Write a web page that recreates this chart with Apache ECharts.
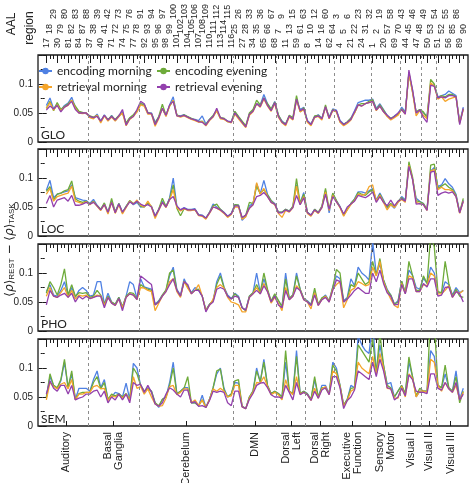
<!DOCTYPE html>
<html>
<head>
<meta charset="utf-8">
<script src="https://cdn.jsdelivr.net/npm/echarts@6/dist/echarts.min.js"></script>
<style>html,body{margin:0;padding:0;background:#fff}#chart{width:474px;height:483px}</style>
</head>
<body>
<div id="chart"></div>
<script>
// AAL region number at each x position (1..116)
const aalRegions = [17,18,29,30,79,80,81,82,83,84,87,88,
  37,38,39,40,41,42,71,72,73,74,75,76,77,78,
  91,92,93,94,95,96,97,98,99,100,101,102,103,104,105,106,107,108,109,110,111,112,113,114,115,116,
  25,26,27,28,33,34,35,36,65,66,67,68,
  7,9,11,13,15,59,61,63,
  8,10,12,14,16,60,62,64,
  3,4,5,6,21,22,23,24,31,32,
  1,2,19,20,57,58,69,70,
  43,44,45,46,47,48,
  49,50,53,54,
  51,52,55,56,85,86,89,90];
const networks = ['Auditory','Basal\nGanglia','Cerebelum','DMN','Dorsal\nLeft','Dorsal\nRight',
  'Executive\nFunction','Sensory\nMotor','Visual I','Visual II','Visual III'];
const networkSizes = [12,14,26,12,8,8,10,8,6,4,8];
const panels = ['GLO','LOC','PHO','SEM'];
const seriesNames = ['encoding morning','encoding evening','retrieval morning','retrieval evening'];
const colors = ['#4f81e3','#6eab3a','#f5a52a','#9340ad'];

// GLO
const gloEncMorning = [.063,.076,.057,.066,.055,.063,.067,.077,.060,.052,.050,.049,
  .043,.041,.048,.036,.047,.037,.046,.037,.044,.052,.032,.041,.046,.052,
  .066,.063,.049,.050,.034,.043,.058,.045,.064,.078,.046,.045,.047,.043,.040,.039,.037,.045,.031,.039,.045,.054,.041,.040,.036,.035,
  .052,.043,.035,.027,.047,.055,.066,.064,.082,.066,.056,.070,
  .046,.036,.031,.044,.041,.072,.056,.060,
  .037,.031,.044,.047,.041,.060,.043,.057,
  .055,.037,.031,.034,.041,.054,.068,.070,.072,.072,
  .074,.058,.066,.056,.046,.040,.045,.049,
  .060,.052,.118,.090,.050,.056,
  .050,.045,.100,.098,
  .078,.080,.082,.088,.084,.080,.034,.060];
const gloEncEvening = [.058,.070,.054,.068,.056,.061,.066,.072,.062,.053,.051,.050,
  .045,.043,.046,.035,.046,.039,.045,.039,.046,.050,.033,.042,.047,.054,
  .066,.065,.051,.049,.032,.044,.065,.046,.062,.072,.047,.044,.047,.044,.041,.038,.035,.036,.030,.039,.046,.055,.042,.041,.035,.034,
  .053,.044,.036,.028,.050,.056,.072,.064,.076,.066,.057,.069,
  .047,.035,.031,.046,.042,.080,.052,.059,
  .035,.030,.045,.046,.040,.064,.041,.056,
  .053,.035,.030,.035,.041,.050,.064,.066,.066,.070,
  .073,.056,.064,.055,.045,.041,.044,.048,
  .057,.050,.120,.086,.052,.056,
  .052,.042,.108,.100,
  .075,.080,.078,.082,.082,.078,.033,.057];
const gloRetMorning = [.058,.068,.055,.064,.054,.060,.063,.072,.058,.050,.049,.050,
  .042,.040,.046,.033,.045,.036,.043,.036,.044,.050,.028,.039,.044,.052,
  .064,.062,.048,.048,.027,.040,.058,.044,.062,.072,.045,.043,.045,.042,.039,.037,.034,.035,.028,.037,.043,.054,.040,.039,.035,.033,
  .048,.040,.032,.025,.046,.052,.066,.060,.074,.062,.053,.066,
  .043,.033,.028,.043,.038,.072,.052,.056,
  .034,.028,.042,.044,.038,.060,.040,.054,
  .052,.034,.028,.032,.038,.050,.064,.062,.066,.068,
  .070,.054,.062,.052,.044,.038,.042,.046,
  .056,.048,.118,.086,.045,.054,
  .046,.040,.102,.096,
  .074,.078,.070,.074,.076,.078,.032,.056];
const gloRetEvening = [.055,.062,.057,.063,.052,.060,.064,.070,.056,.050,.050,.050,
  .044,.042,.044,.036,.046,.038,.044,.038,.045,.056,.029,.040,.044,.056,
  .070,.066,.050,.049,.030,.042,.058,.046,.064,.070,.045,.044,.046,.043,.040,.038,.035,.034,.029,.038,.044,.058,.042,.040,.036,.034,
  .050,.042,.034,.026,.048,.053,.066,.061,.076,.063,.054,.068,
  .044,.034,.030,.045,.039,.074,.054,.057,
  .036,.030,.043,.045,.040,.061,.041,.055,
  .054,.036,.030,.034,.039,.052,.064,.062,.066,.068,
  .070,.055,.062,.052,.046,.040,.044,.050,
  .056,.048,.124,.090,.050,.055,
  .042,.034,.098,.096,
  .076,.078,.076,.080,.080,.078,.030,.058];

// LOC
const locEncMorning = [.079,.096,.066,.072,.074,.076,.078,.088,.066,.064,.062,.061,
  .056,.063,.053,.046,.056,.041,.060,.042,.056,.041,.051,.060,.054,.058,
  .050,.051,.056,.051,.035,.046,.060,.050,.066,.100,.051,.045,.049,.046,.046,.047,.037,.036,.031,.041,.055,.050,.046,.041,.034,.039,
  .054,.053,.027,.034,.052,.056,.090,.073,.096,.072,.061,.056,
  .041,.041,.046,.043,.051,.088,.057,.075,
  .041,.036,.046,.040,.051,.078,.040,.073,
  .061,.051,.036,.046,.056,.064,.076,.076,.074,.078,
  .082,.062,.074,.062,.048,.054,.048,.058,
  .068,.062,.124,.098,.065,.060,
  .056,.046,.112,.118,
  .085,.088,.099,.090,.084,.072,.040,.062];
const locEncEvening = [.077,.085,.062,.072,.074,.078,.080,.095,.064,.060,.058,.060,
  .055,.060,.052,.046,.057,.040,.065,.041,.056,.040,.051,.061,.056,.060,
  .051,.050,.057,.051,.033,.046,.065,.051,.064,.088,.048,.035,.047,.045,.045,.046,.036,.035,.030,.041,.052,.055,.046,.040,.033,.038,
  .054,.053,.031,.036,.058,.056,.086,.073,.080,.071,.061,.055,
  .041,.041,.046,.043,.051,.099,.056,.072,
  .041,.035,.046,.041,.051,.082,.046,.074,
  .061,.050,.036,.046,.056,.063,.075,.072,.070,.076,
  .080,.060,.072,.060,.050,.056,.050,.060,
  .066,.060,.128,.102,.061,.059,
  .056,.045,.122,.124,
  .082,.086,.090,.084,.080,.070,.041,.065];
const locRetMorning = [.072,.082,.060,.068,.070,.072,.074,.086,.060,.058,.056,.059,
  .054,.059,.051,.044,.054,.038,.058,.039,.054,.038,.049,.060,.055,.062,
  .053,.050,.060,.050,.030,.044,.058,.049,.062,.080,.049,.043,.047,.044,.044,.045,.035,.034,.029,.039,.050,.048,.044,.039,.032,.037,
  .050,.050,.029,.033,.048,.054,.092,.072,.082,.068,.058,.054,
  .039,.032,.044,.041,.049,.086,.054,.068,
  .039,.034,.044,.039,.049,.076,.044,.070,
  .059,.049,.034,.045,.054,.061,.072,.070,.072,.085,
  .088,.060,.070,.058,.045,.054,.049,.058,
  .063,.058,.122,.098,.058,.056,
  .054,.044,.112,.115,
  .080,.084,.080,.080,.078,.068,.039,.060];
const locRetEvening = [.056,.070,.050,.062,.064,.066,.060,.070,.053,.053,.055,.058,
  .055,.058,.052,.045,.054,.041,.058,.040,.055,.041,.050,.059,.055,.060,
  .055,.052,.054,.050,.034,.045,.058,.050,.063,.068,.052,.045,.048,.045,.045,.046,.036,.035,.031,.040,.050,.048,.045,.040,.034,.038,
  .052,.052,.032,.036,.048,.054,.068,.070,.075,.068,.058,.055,
  .040,.040,.045,.042,.049,.070,.054,.066,
  .040,.036,.045,.040,.049,.072,.046,.068,
  .059,.050,.038,.050,.055,.060,.070,.068,.066,.070,
  .076,.058,.068,.058,.052,.062,.052,.060,
  .064,.060,.120,.098,.055,.056,
  .054,.044,.110,.112,
  .070,.074,.076,.074,.076,.068,.040,.060];

// PHO
const phoEncMorning = [.068,.080,.062,.060,.070,.085,.060,.075,.058,.070,.075,.070,
  .060,.062,.085,.085,.046,.065,.050,.046,.058,.042,.060,.085,.080,.056,
  .090,.076,.074,.072,.046,.052,.062,.070,.095,.110,.072,.062,.090,.076,.066,.075,.070,.060,.036,.046,.052,.085,.100,.076,.062,.056,
  .065,.060,.040,.036,.060,.066,.100,.066,.090,.070,.050,.062,
  .052,.042,.100,.056,.062,.100,.072,.056,
  .052,.046,.068,.046,.056,.062,.052,.076,
  .095,.090,.052,.058,.090,.078,.110,.100,.095,.088,
  .155,.098,.115,.088,.072,.062,.046,.052,
  .086,.066,.105,.096,.075,.072,
  .091,.082,.110,.100,
  .066,.066,.085,.080,.062,.075,.066,.070];
const phoEncEvening = [.065,.085,.075,.062,.080,.107,.062,.080,.060,.066,.065,.066,
  .058,.060,.070,.062,.046,.060,.050,.046,.058,.041,.060,.066,.065,.056,
  .080,.075,.072,.070,.045,.051,.062,.071,.100,.105,.070,.060,.086,.076,.066,.070,.072,.060,.036,.046,.052,.080,.095,.075,.060,.055,
  .064,.058,.040,.035,.060,.066,.080,.066,.100,.072,.052,.064,
  .053,.042,.090,.056,.062,.095,.072,.056,
  .051,.045,.074,.046,.057,.060,.052,.075,
  .106,.100,.050,.056,.080,.076,.100,.090,.080,.085,
  .120,.096,.125,.088,.070,.062,.046,.050,
  .086,.066,.120,.096,.070,.070,
  .095,.082,.165,.145,
  .068,.066,.120,.082,.060,.072,.060,.058];
const phoRetMorning = [.060,.075,.060,.058,.066,.075,.058,.070,.055,.062,.060,.062,
  .056,.058,.062,.060,.044,.058,.048,.044,.055,.040,.058,.064,.062,.054,
  .075,.074,.070,.068,.035,.048,.060,.068,.085,.090,.068,.058,.085,.074,.064,.070,.080,.060,.035,.044,.055,.075,.080,.074,.058,.050,
  .048,.045,.033,.033,.058,.064,.075,.064,.082,.068,.048,.058,
  .048,.035,.075,.054,.060,.078,.070,.054,
  .050,.038,.066,.044,.054,.060,.050,.072,
  .080,.085,.040,.054,.070,.074,.085,.082,.078,.080,
  .110,.095,.120,.085,.068,.055,.044,.040,
  .082,.064,.095,.092,.068,.068,
  .080,.078,.100,.095,
  .064,.064,.070,.078,.058,.068,.065,.070];
const phoRetEvening = [.045,.070,.060,.058,.062,.065,.058,.065,.050,.060,.055,.060,
  .056,.058,.060,.060,.040,.058,.048,.044,.056,.035,.058,.064,.062,.054,
  .095,.090,.085,.080,.045,.050,.060,.068,.080,.090,.070,.060,.085,.080,.064,.070,.070,.060,.033,.045,.050,.072,.075,.072,.060,.055,
  .060,.058,.040,.036,.058,.064,.070,.064,.078,.068,.050,.060,
  .045,.040,.070,.054,.060,.075,.070,.054,
  .050,.044,.062,.044,.054,.058,.050,.070,
  .088,.085,.050,.055,.062,.070,.075,.070,.065,.065,
  .100,.085,.105,.082,.066,.060,.045,.046,
  .080,.064,.090,.090,.068,.068,
  .082,.076,.090,.090,
  .060,.062,.075,.076,.058,.068,.064,.050];

// SEM
const semEncMorning = [.050,.085,.070,.065,.078,.110,.066,.090,.046,.065,.065,.065,
  .060,.080,.095,.066,.080,.046,.050,.058,.056,.050,.074,.046,.108,.100,
  .070,.060,.066,.060,.040,.032,.046,.050,.075,.110,.056,.060,.066,.066,.040,.040,.035,.053,.032,.046,.066,.090,.100,.065,.050,.055,
  .075,.074,.034,.030,.050,.060,.100,.076,.115,.070,.056,.060,
  .056,.050,.110,.060,.056,.130,.056,.060,
  .056,.046,.080,.050,.070,.070,.056,.110,
  .100,.070,.036,.046,.070,.066,.155,.140,.130,.125,
  .180,.092,.140,.105,.072,.075,.050,.060,
  .070,.056,.110,.085,.050,.060,
  .060,.060,.130,.120,
  .070,.066,.090,.066,.060,.095,.046,.065];
const semEncEvening = [.048,.090,.070,.066,.080,.115,.066,.095,.046,.056,.058,.058,
  .058,.075,.085,.064,.075,.046,.055,.052,.055,.050,.056,.046,.100,.090,
  .070,.060,.064,.060,.040,.035,.046,.050,.070,.100,.055,.060,.065,.085,.040,.040,.035,.045,.032,.046,.066,.095,.098,.062,.050,.055,
  .078,.080,.034,.030,.050,.060,.095,.076,.110,.070,.056,.060,
  .056,.050,.130,.060,.056,.120,.056,.060,
  .055,.046,.085,.050,.066,.065,.056,.105,
  .095,.070,.036,.046,.065,.066,.140,.130,.120,.110,
  .150,.090,.160,.105,.070,.066,.050,.060,
  .070,.056,.119,.085,.052,.065,
  .060,.060,.200,.180,
  .070,.066,.105,.066,.060,.085,.040,.060];
const semRetMorning = [.045,.075,.068,.064,.072,.075,.064,.080,.045,.055,.055,.058,
  .058,.068,.070,.064,.065,.044,.052,.050,.054,.048,.055,.044,.085,.065,
  .068,.055,.064,.050,.038,.034,.035,.048,.068,.070,.054,.058,.064,.064,.040,.045,.035,.045,.032,.045,.064,.060,.065,.060,.050,.052,
  .070,.070,.033,.030,.048,.058,.075,.074,.085,.068,.054,.058,
  .054,.045,.080,.060,.054,.085,.055,.058,
  .054,.044,.065,.048,.064,.068,.054,.095,
  .090,.068,.034,.044,.060,.064,.110,.100,.095,.090,
  .120,.088,.125,.100,.065,.064,.048,.048,
  .068,.050,.090,.082,.050,.060,
  .060,.058,.115,.110,
  .070,.060,.075,.064,.058,.070,.045,.058];
const semRetEvening = [.055,.078,.065,.060,.070,.070,.055,.070,.045,.048,.050,.055,
  .055,.060,.062,.050,.060,.040,.050,.045,.055,.045,.055,.040,.075,.070,
  .072,.058,.070,.058,.038,.034,.040,.055,.066,.062,.055,.050,.062,.062,.040,.042,.034,.035,.032,.044,.060,.058,.060,.058,.040,.035,
  .060,.060,.033,.030,.046,.056,.070,.074,.075,.066,.054,.050,
  .050,.048,.070,.058,.045,.075,.054,.058,
  .054,.044,.060,.048,.062,.066,.054,.085,
  .085,.066,.030,.044,.050,.062,.095,.090,.085,.080,
  .110,.085,.115,.095,.066,.064,.045,.050,
  .065,.052,.088,.080,.060,.058,
  .058,.056,.090,.090,
  .065,.062,.075,.064,.058,.075,.045,.055];

const panelData = [
  [gloEncMorning, gloEncEvening, gloRetMorning, gloRetEvening],
  [locEncMorning, locEncEvening, locRetMorning, locRetEvening],
  [phoEncMorning, phoEncEvening, phoRetMorning, phoRetEvening],
  [semEncMorning, semEncEvening, semRetMorning, semRetEvening]
];

// network boundaries (dashed lines) and centres (bottom labels)
const boundaries = [];
const centers = [];
let start = 1;
networkSizes.forEach((n, k) => {
  centers.push(start + (n - 1) / 2);
  if (k < networkSizes.length - 1) boundaries.push(start + n - 0.5);
  start += n;
});
const allIdx = aalRegions.map((_, i) => i + 1);
const nearRow = allIdx.filter(i => i % 3 === 1);

const chart = echarts.init(document.getElementById('chart'));
const tops = [55, 149, 244, 339];
const xMin = -1.3, xMax = 117.3;
const ink = '#1a1a1a';

const grids = tops.map(top => ({
  left: 38, right: 6, top: top, height: 87, show: true,
  borderColor: ink, borderWidth: 1.3, backgroundColor: 'transparent',
  containLabel: false, outerBoundsMode: 'none'
}));

const xAxes = [];
const mainX = [];
const yAxes = [];
const baseX = g => ({
  type: 'value', gridIndex: g, min: xMin, max: xMax,
  axisLine: { show: false, onZero: false }, splitLine: { show: false }
});
panels.forEach((p, g) => {
  mainX.push(xAxes.length);
  xAxes.push(Object.assign(baseX(g), {
    position: 'bottom',
    axisTick: g === 3
      ? { show: true, inside: true, length: 5, customValues: centers, lineStyle: { color: ink } }
      : { show: false },
    axisLabel: g === 3
      ? { show: true, customValues: centers, rotate: 90, margin: 6, fontSize: 11, lineHeight: 11,
          color: '#222', fontFamily: 'Liberation Sans',
          formatter: v => networks[centers.indexOf(v)] }
      : { show: false }
  }));
  xAxes.push(Object.assign(baseX(g), {
    position: 'top',
    axisTick: { show: true, inside: true, length: 4, customValues: allIdx, lineStyle: { color: ink } },
    axisLabel: { show: false }
  }));
  xAxes.push(Object.assign(baseX(g), {
    position: 'top',
    axisTick: { show: true, inside: true, length: 8, customValues: nearRow, lineStyle: { color: ink } },
    axisLabel: { show: false }
  }));
  [['left', true], ['right', false]].forEach(([pos, lab]) => {
    yAxes.push({
      type: 'value', gridIndex: g, position: pos, min: 0, max: 0.15, interval: 0.05,
      axisLine: { show: false }, splitLine: { show: false },
      axisTick: { show: true, inside: true, length: 4, lineStyle: { color: ink } },
      minorTick: { show: true, splitNumber: 2, length: 2, lineStyle: { color: ink } },
      axisLabel: lab
        ? { show: true, fontSize: 10, color: '#222', fontFamily: 'Liberation Sans', margin: 5,
            formatter: v => (v > 0.14 ? '' : String(+v.toFixed(2))) }
        : { show: false }
    });
  });
});

const series = [];
panelData.forEach((sets, g) => {
  sets.forEach((vals, s) => {
    const item = {
      type: 'line', name: seriesNames[s], xAxisIndex: mainX[g], yAxisIndex: 2 * g,
      data: vals.map((v, i) => [i + 1, v]), symbol: 'none', clip: true,
      lineStyle: { width: 1.3, color: colors[s] }, itemStyle: { color: colors[s] },
      emphasis: { disabled: true }
    };
    if (s === 0) {
      item.markLine = {
        silent: true, symbol: ['none', 'none'], label: { show: false },
        lineStyle: { type: [3, 3], color: '#8c8c8c', width: 1 },
        data: boundaries.map(b => ({ xAxis: b }))
      };
    }
    series.push(item);
  });
});

const legendPos = [[38, 65], [156, 65], [38, 81], [156, 81]];
const legends = seriesNames.map((name, k) => ({
  data: [name], left: legendPos[k][0], top: legendPos[k][1], padding: 0,
  itemWidth: 13, itemHeight: 8, selectedMode: false,
  textStyle: { fontSize: 12, color: '#222', fontFamily: 'Lato' }
}));

const txt = (x, y, text, font, rot, align) => ({
  type: 'text', x: x, y: y, rotation: rot || 0, silent: true,
  style: { text: text, font: font, fill: '#222', align: align || 'center', verticalAlign: 'middle' }
});
const graphics = [
  txt(11.5, 24, 'AAL', '12px "Liberation Sans"', Math.PI / 2),
  txt(30, 28, 'region', '12px "Liberation Sans"', Math.PI / 2),
  {
    type: 'text', x: 10, y: 250, rotation: Math.PI / 2, silent: true,
    style: {
      text: '{n|⟨}{i|ρ}{n|⟩}{s|REST}{n| − ⟨}{i|ρ}{n|⟩}{s|TASK}',
      fill: '#222', align: 'center', verticalAlign: 'middle',
      rich: {
        n: { fontSize: 12, fontFamily: 'DejaVu Sans', color: '#222' },
        i: { fontSize: 12, fontFamily: 'DejaVu Sans', fontStyle: 'italic', color: '#222' },
        s: { fontSize: 8, fontFamily: 'Liberation Sans', verticalAlign: 'bottom', color: '#222' }
      }
    }
  }
];
panels.forEach((p, g) => {
  graphics.push(txt(41, tops[g] + 80, p, '12px Lato', 0, 'left'));
});

chart.setOption({
  animation: false,
  grid: grids,
  xAxis: xAxes,
  yAxis: yAxes,
  legend: legends,
  graphic: graphics,
  series: series
});

// AAL numbers above the first panel, three staggered rows, placed with the x scale
const rowBase = [48, 34, 19];
allIdx.forEach(i => {
  const x = chart.convertToPixel({ xAxisIndex: mainX[0] }, i);
  graphics.push(txt(x, rowBase[(i - 1) % 3], String(aalRegions[i - 1]),
    '9px "Liberation Sans"', Math.PI / 2, 'left'));
});
chart.setOption({ graphic: graphics });
</script>
</body>
</html>
